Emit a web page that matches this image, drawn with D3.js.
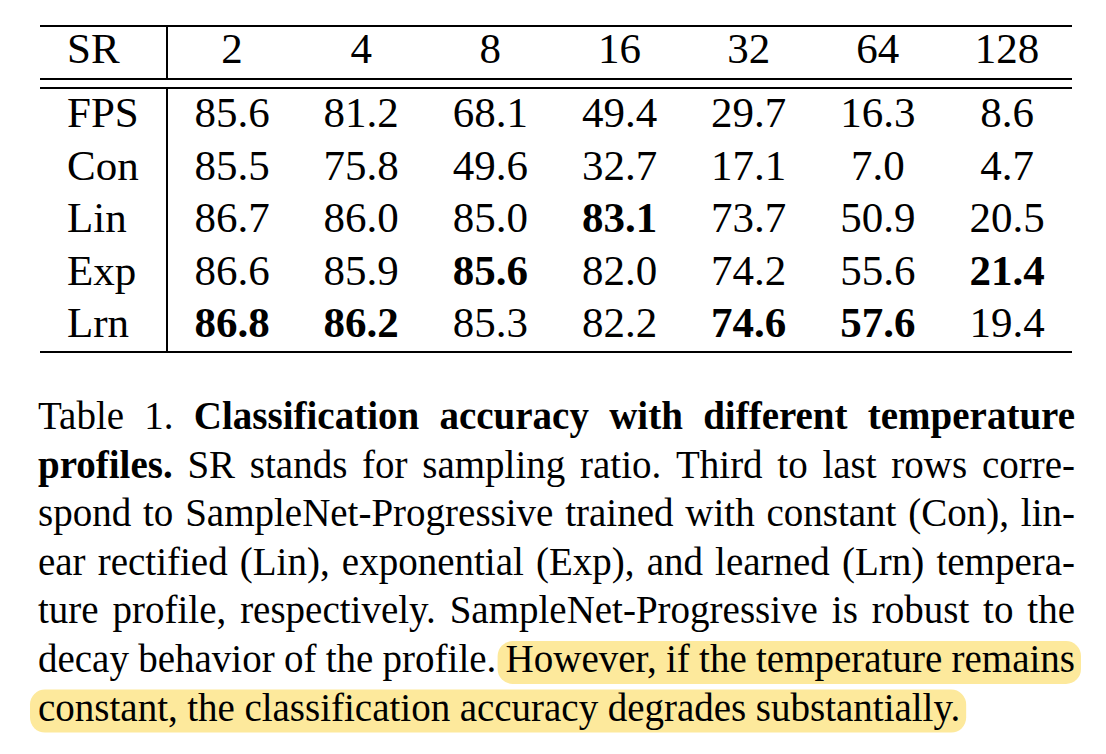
<!DOCTYPE html>
<html><head><meta charset="utf-8">
<script src="https://cdn.jsdelivr.net/npm/d3@7"></script>
<style>body{margin:0;background:#fff}text{font-family:"Liberation Serif","Times New Roman",serif}</style>
</head><body>
<svg width="1106" height="754"></svg>
<script>
const ratios = ['2', '4', '8', '16', '32', '64', '128']
const profiles = ['FPS', 'Con', 'Lin', 'Exp', 'Lrn']
const fps = [85.6, 81.2, 68.1, 49.4, 29.7, 16.3, 8.6]
const con = [85.5, 75.8, 49.6, 32.7, 17.1, 7.0, 4.7]
const lin = [86.7, 86.0, 85.0, 83.1, 73.7, 50.9, 20.5]
const exp = [86.6, 85.9, 85.6, 82.0, 74.2, 55.6, 21.4]
const lrn = [86.8, 86.2, 85.3, 82.2, 74.6, 57.6, 19.4]
const values = [fps, con, lin, exp, lrn]
// best (bold) row per column
const best = [4, 4, 3, 2, 4, 4, 3]

const captionLines = [
  [['Table 1. ', 0, 0], ['Classification accuracy with different temperature', 1, 0]],
  [['profiles.', 1, 0], [' SR stands for sampling ratio. Third to last rows corre-', 0, 0]],
  [['spond to SampleNet-Progressive trained with constant (Con), lin-', 0, 0]],
  [['ear rectified (Lin), exponential (Exp), and learned (Lrn) tempera-', 0, 0]],
  [['ture profile, respectively. SampleNet-Progressive is robust to the', 0, 0]],
  [['decay behavior of the profile. ', 0, 0], ['However, if the temperature remains', 0, 1]],
  [['constant, the classification accuracy degrades substantially.', 0, 1]]
]

const svg = d3.select('svg')
const left = 40, right = 1072, fs = 43

const x = d3.scalePoint().domain(ratios).range([232, 1007])
const y = d3.scalePoint().domain(profiles).range([127, 337])

const rule = (x1, x2, y1, y2, w) => svg.append('line')
  .attr('x1', x1).attr('x2', x2).attr('y1', y1).attr('y2', y2)
  .attr('stroke', '#000').attr('stroke-width', w)
rule(left, right, 26, 26, 2.2)
rule(left, right, 79, 79, 2)
rule(left, right, 88, 88, 2)
rule(left, right, 352, 352, 2.2)
rule(167, 167, 26, 79, 2)
rule(167, 167, 88, 352, 2)

svg.append('text').attr('x', 67).attr('y', 63).attr('font-size', fs).text('SR')
svg.selectAll('.hd').data(ratios).join('text')
  .attr('x', d => x(d)).attr('y', 63).attr('text-anchor', 'middle')
  .attr('font-size', fs).text(d => d)

profiles.forEach((p, r) => {
  svg.append('text').attr('x', 67).attr('y', y(p)).attr('font-size', fs).text(p)
  svg.selectAll('.r' + r).data(values[r]).join('text')
    .attr('x', (d, i) => x(ratios[i])).attr('y', y(p))
    .attr('text-anchor', 'middle').attr('font-size', fs)
    .attr('font-weight', (d, i) => best[i] === r ? 'bold' : 'normal')
    .text(d => d.toFixed(1))
})

// caption, justified
const cap = svg.append('g')
const hlLayer = cap.append('g')
const capLeft = 38, capRight = 1075, lineH = 48.6
captionLines.forEach((segs, li) => {
  const base = 429 + li * lineH
  const words = []
  segs.forEach(([t, b, h]) => t.split(' ').filter(w => w).forEach(w => words.push({ w, b, h })))
  const els = words.map(d => cap.append('text').attr('y', base).attr('font-size', 39)
    .attr('font-weight', d.b ? 'bold' : 'normal').text(d.w))
  const widths = els.map(e => e.node().getComputedTextLength())
  const total = d3.sum(widths)
  const last = li === captionLines.length - 1
  const gap = last ? 9.5 : (capRight - capLeft - total) / (words.length - 1)
  let cx = capLeft
  const pos = []
  els.forEach((e, i) => { e.attr('x', cx); pos.push(cx); cx += widths[i] + gap })
  const hi = words.map((d, i) => d.h ? i : -1).filter(i => i >= 0)
  if (hi.length) {
    const x0 = pos[hi[0]] - 8, i1 = hi[hi.length - 1], x1 = pos[i1] + widths[i1] + 6
    hlLayer.append('rect').attr('x', x0).attr('y', base - 31).attr('width', x1 - x0)
      .attr('height', 43).attr('rx', 15).attr('fill', '#fde99c')
  }
})
</script>
</body></html>
